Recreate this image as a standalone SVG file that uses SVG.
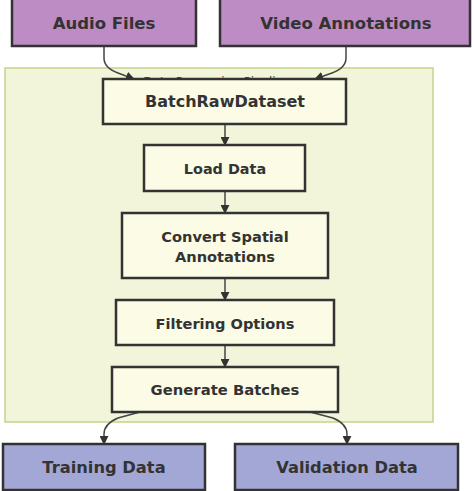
<svg xmlns="http://www.w3.org/2000/svg" width="474" height="491" viewBox="0 0 474 491">
<defs>
<style>
.t{font-family:"DejaVu Sans",Verdana,sans-serif;font-weight:bold;fill:#333;text-anchor:middle;dominant-baseline:central}
.src{fill:#be8cc4;stroke:#333;stroke-width:2.5}
.out{fill:#a3a7d6;stroke:#333;stroke-width:2.5}
.n{fill:#fbfbe6;stroke:#333;stroke-width:2.5}
.e{fill:none;stroke:#444;stroke-width:1.5}
</style>
<marker id="ah" viewBox="0 0 10 10" refX="9" refY="5" markerWidth="6" markerHeight="6" orient="auto"><path d="M0,0L10,5L0,10z" fill="#333"/></marker>
</defs>
<rect width="474" height="491" fill="#fff"/>
<g id="cluster">
<rect x="5" y="68" width="428" height="354" fill="#f2f5da" stroke="#c6d28c" stroke-width="1.5"/>
<text x="217" y="85.5" font-family="DejaVu Sans,sans-serif" font-size="12" fill="#444" text-anchor="middle">Data Processing Pipeline</text>
</g>
<g id="connectors">
<path class="e" d="M104,46 V58 Q104,68 118,73 L134,79" marker-end="url(#ah)"/>
<path class="e" d="M346,46 V58 Q346,68 332,73 L315,79" marker-end="url(#ah)"/>
<path class="e" d="M225,124 V145" marker-end="url(#ah)"/>
<path class="e" d="M225,191 V213" marker-end="url(#ah)"/>
<path class="e" d="M225,278 V300" marker-end="url(#ah)"/>
<path class="e" d="M225,345 V367" marker-end="url(#ah)"/>
<path class="e" d="M140,412 L118,418 Q104,424 104,434 V444" marker-end="url(#ah)"/>
<path class="e" d="M310,412 L333,418 Q347,424 347,434 V444" marker-end="url(#ah)"/>
</g>
<g id="audio"><rect class="src" x="12" y="-5" width="184" height="51"/><text class="t" x="104" y="23" font-size="16.5">Audio Files</text></g>
<g id="video"><rect class="src" x="220" y="-5" width="250" height="51"/><text class="t" x="346" y="23" font-size="16.5">Video Annotations</text></g>
<g id="batchraw"><rect class="n" x="103" y="79" width="243" height="45"/><text class="t" x="225" y="101" font-size="16">BatchRawDataset</text></g>
<g id="load"><rect class="n" x="144" y="145" width="161" height="46"/><text class="t" x="225" y="169" font-size="14.4">Load Data</text></g>
<g id="convert"><rect class="n" x="122" y="213" width="206" height="65"/><text class="t" x="225" y="236" font-size="14.6">Convert Spatial</text><text class="t" x="225" y="256" font-size="14.6">Annotations</text></g>
<g id="filter"><rect class="n" x="116" y="300" width="218" height="45"/><text class="t" x="225" y="323" font-size="14.6">Filtering Options</text></g>
<g id="generate"><rect class="n" x="112" y="367" width="226" height="45"/><text class="t" x="225" y="389" font-size="14.8">Generate Batches</text></g>
<g id="training"><rect class="out" x="3" y="444" width="202" height="46"/><text class="t" x="104" y="467" font-size="16.3">Training Data</text></g>
<g id="validation"><rect class="out" x="235" y="444" width="223" height="46"/><text class="t" x="347" y="467" font-size="16.3">Validation Data</text></g>
</svg>
